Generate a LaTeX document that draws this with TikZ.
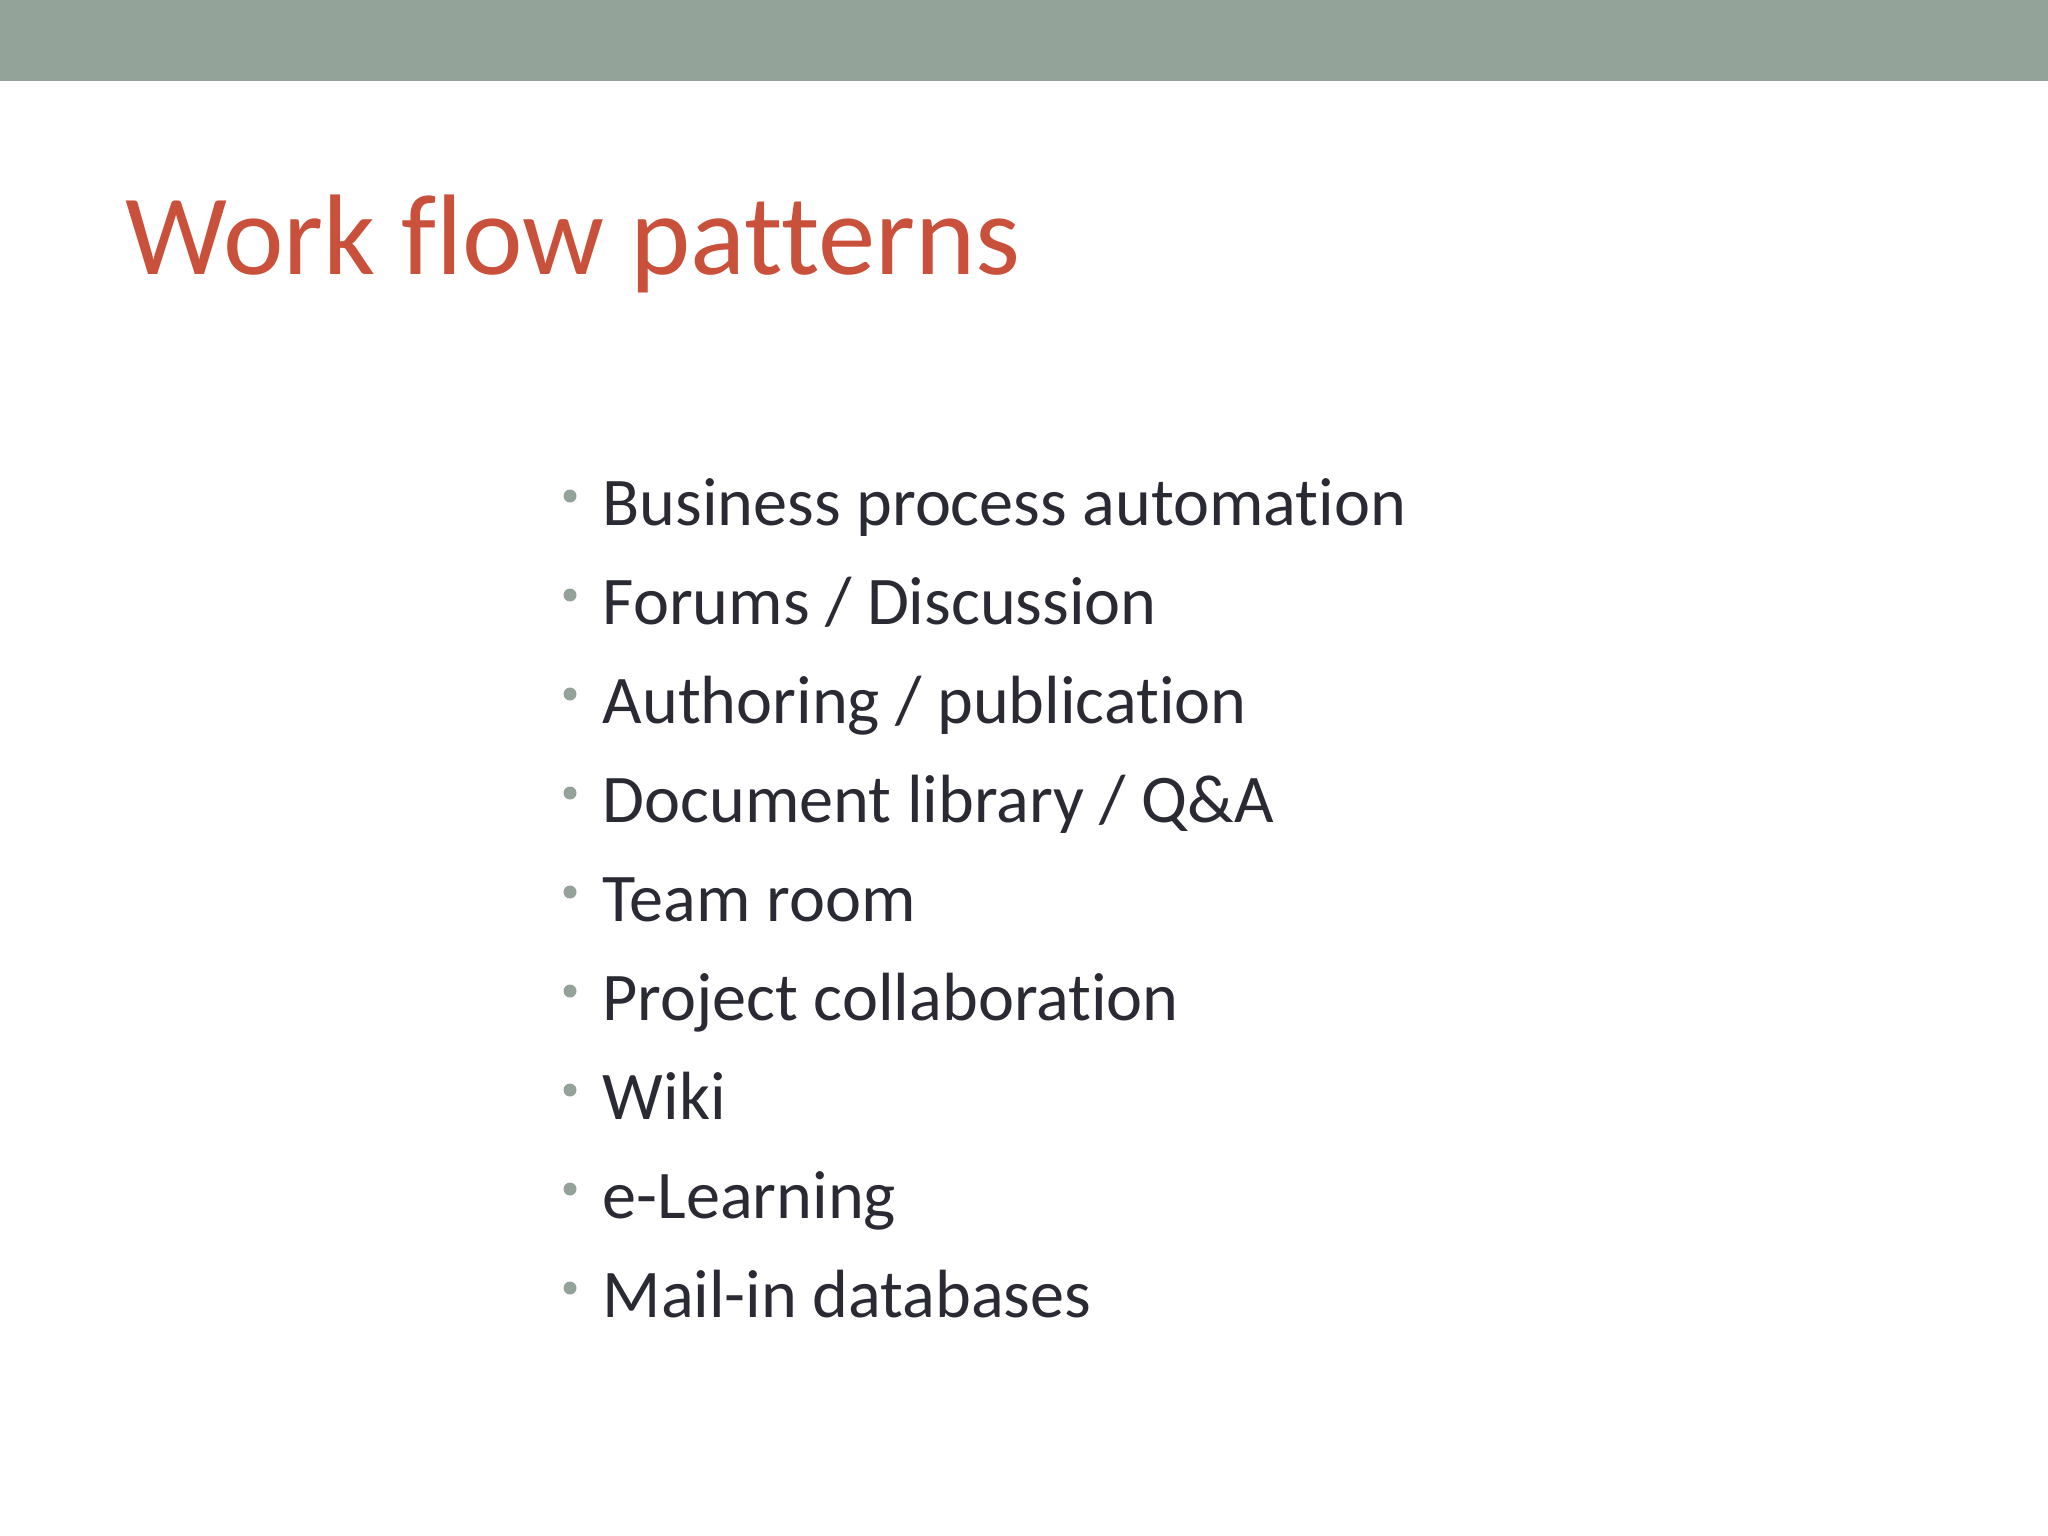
\documentclass[tikz,border=0pt]{standalone}
\usepackage{fontspec}
\setmainfont{Carlito}[Ligatures=NoCommon]
\definecolor{bar}{HTML}{93A39A}
\definecolor{ttl}{HTML}{C9503A}
\definecolor{txt}{HTML}{2A2A35}
\definecolor{dot}{HTML}{93A39A}
\begin{document}
\begin{tikzpicture}[x=0.01cm,y=-0.01cm,
  item/.style={anchor=base west,inner sep=0pt,font=\fontsize{19.4}{24}\selectfont,text=txt},
  bul/.style={circle,fill=dot,inner sep=0pt,minimum size=0.13cm}]
\useasboundingbox (0,0) rectangle (2048,1536);
\fill[bar] (0,0) rectangle (2048,81);
\node[anchor=base west,inner sep=0pt,font=\fontsize{32.6}{38}\selectfont,text=ttl] (title) at (125,274) {Work flow patterns};
\foreach \t [count=\i from 0] in {Business process automation,Forums / Discussion,Authoring / publication,Document library / Q\&A,Team room,Project collaboration,Wiki,e-Learning,Mail-in databases}{
  \node[item] (it\i) at (602,525+99*\i) {\t};
  \node[bul] (b\i) at (570,496+99*\i) {};
}
\end{tikzpicture}
\end{document}
